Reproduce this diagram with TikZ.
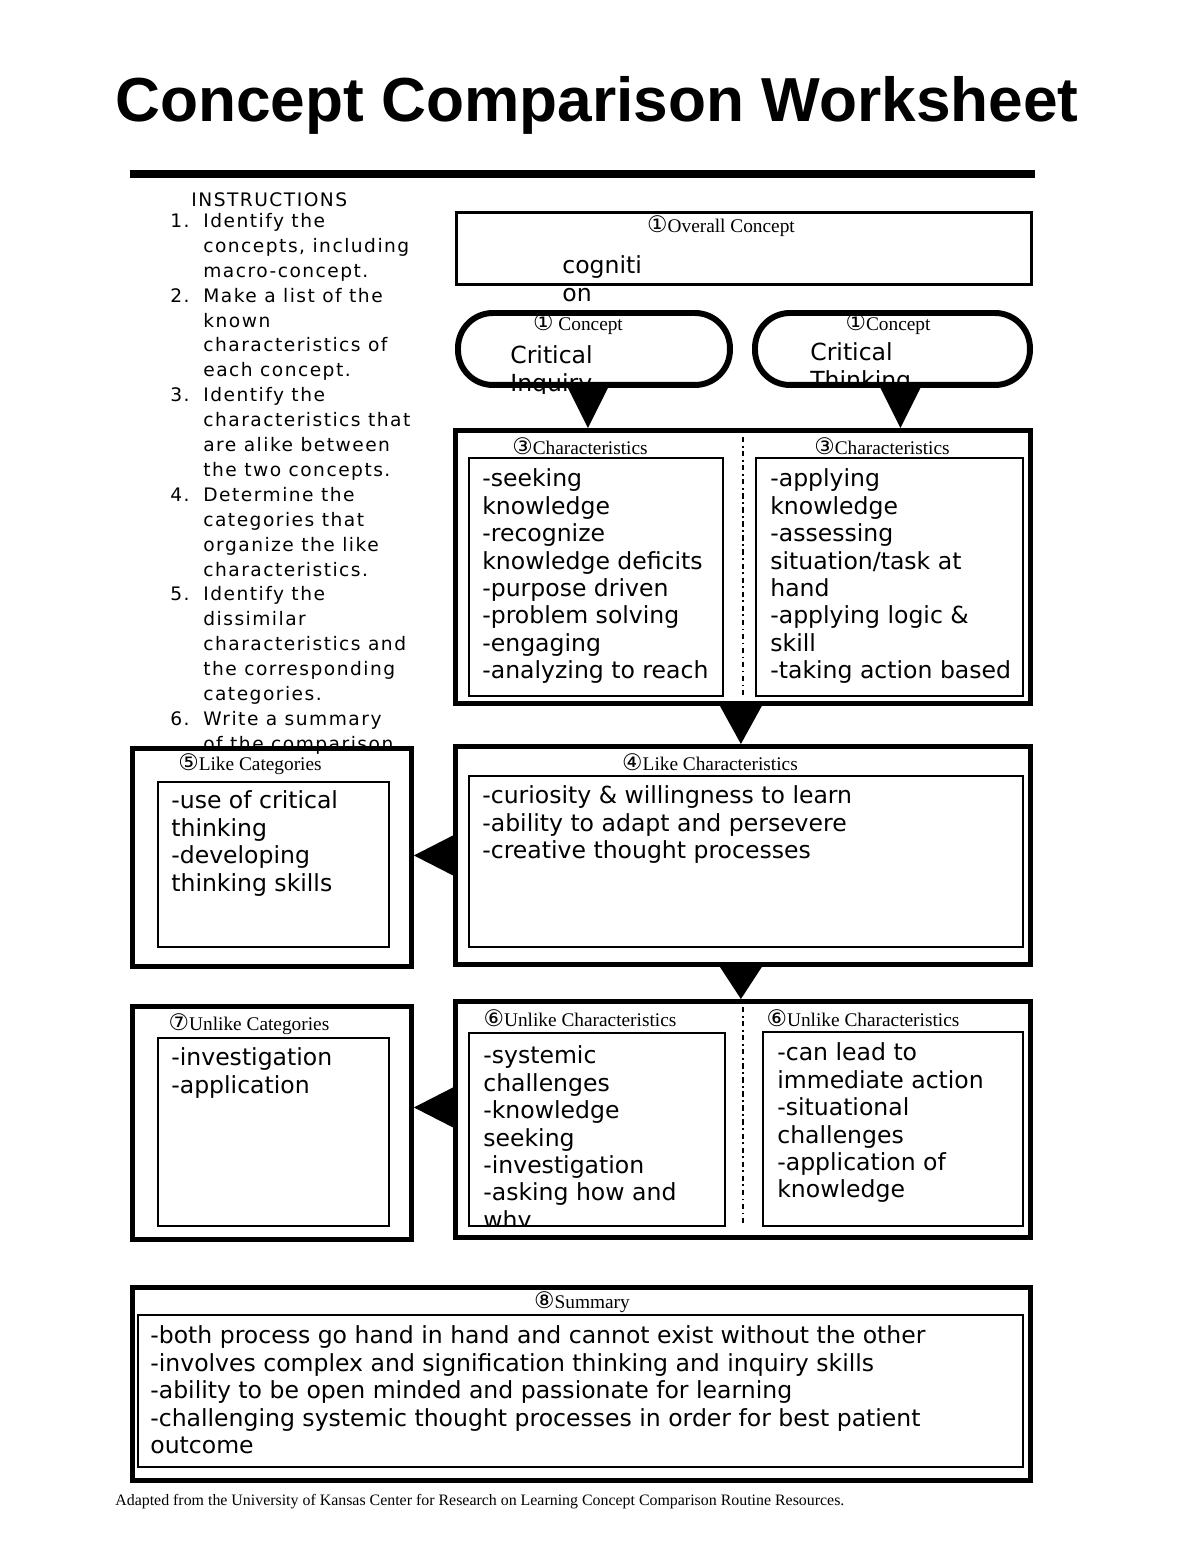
\documentclass[tikz,border=0pt]{standalone}
\usepackage{fontspec}
\setmainfont{Liberation Serif}
\newfontfamily\bodyfont{DejaVu Sans}
\newfontfamily\instrfont[LetterSpace=8]{DejaVu Sans}
\newfontfamily\headfont{Liberation Sans}
\newfontfamily\numfont{DejaVu Sans}
\usetikzlibrary{calc}

\newcommand{\cnum}[1]{{\numfont\fontsize{13}{13}\selectfont #1}}
\newcommand{\stepno}[1]{\makebox[6.6mm][l]{#1}}
\newcommand{\stepind}{\hspace*{6.6mm}}

\begin{document}
\begin{tikzpicture}[
  x=0.02cm, y=-0.02cm,
  outerbox/.style={draw, line width=2.8pt, anchor=north west, inner sep=0pt},
  innerbox/.style={draw, line width=0.9pt, anchor=north west, inner sep=0pt},
  conceptbox/.style={draw, line width=3.4pt, rounded corners=7mm, anchor=north west, inner sep=0pt},
  lbl/.style={font=\fontsize{11}{13}\selectfont, inner sep=0pt},
  body/.style={font=\bodyfont\fontsize{13.4}{15.6}\selectfont, align=left, anchor=north west, inner sep=0pt, execute at begin node=\strut},
  instr/.style={font=\instrfont\fontsize{10.6}{14.17}\selectfont, align=left, anchor=north west, inner sep=0pt, execute at begin node=\strut},
  divider/.style={line width=1pt, dash dot},
  head/.style={fill=black}
]
\useasboundingbox (0,0) rectangle (1200,1553);

% title and rule
\node[font=\headfont\bfseries\fontsize{35.4}{40}\selectfont] (title) at (597,105) {Concept Comparison Worksheet};
\draw[line width=4.5pt] (130,174) -- (1035,174);

% instructions
\node[instr] (instrhead) at (191,189) {INSTRUCTIONS};
\node[instr] (steps) at (170,213) {\stepno{1.}Identify the\\
\stepind concepts, including\\
\stepind macro-concept.\\
\stepno{2.}Make a list of the\\
\stepind known\\
\stepind characteristics of\\
\stepind each concept.\\
\stepno{3.}Identify the\\
\stepind characteristics that\\
\stepind are alike between\\
\stepind the two concepts.\\
\stepno{4.}Determine the\\
\stepind categories that\\
\stepind organize the like\\
\stepind characteristics.\\
\stepno{5.}Identify the\\
\stepind dissimilar\\
\stepind characteristics and\\
\stepind the corresponding\\
\stepind categories.\\
\stepno{6.}Write a summary\\
\stepind of the comparison.};

% boxes
\node[outerbox, line width=1.8pt, minimum width=115mm, minimum height=14.4mm] (overall) at (455,211) {};
\node[conceptbox, minimum width=54.4mm, minimum height=14.4mm] (cl) at (455,310) {};
\node[conceptbox, minimum width=55mm, minimum height=14.4mm] (cr) at (752,310) {};

\node[outerbox, minimum width=115mm, minimum height=54.6mm] (chars) at (453,428) {};
\node[innerbox, minimum width=50.9mm, minimum height=47.7mm] (charl) at (468,457) {};
\node[innerbox, minimum width=53.5mm, minimum height=47.7mm] (charr) at (755,457) {};
\draw[divider] ($(chars.north)+(0,9)$) -- ($(chars.south)+(0,-9)$);

\node[outerbox, minimum width=115mm, minimum height=43.6mm] (like) at (453,744) {};
\node[innerbox, minimum width=110.9mm, minimum height=34.3mm] (likein) at (468,775) {};
\node[outerbox, minimum width=55.8mm, minimum height=43.6mm] (likecat) at (130,746) {};
\node[innerbox, minimum width=46.3mm, minimum height=33.1mm] (likecatin) at (157,781) {};

\node[outerbox, minimum width=115mm, minimum height=47.2mm] (unlike) at (453,999) {};
\node[innerbox, minimum width=51.3mm, minimum height=38.7mm] (unlikel) at (468,1032) {};
\node[innerbox, minimum width=52.1mm, minimum height=38.9mm] (unliker) at (762,1031) {};
\draw[divider] ($(unlike.north)+(0,8)$) -- ($(unlike.south)+(0,-14)$);
\node[outerbox, minimum width=55.8mm, minimum height=46.6mm] (unlikecat) at (130,1004) {};
\node[innerbox, minimum width=46.3mm, minimum height=37.7mm] (unlikecatin) at (157,1037) {};

\node[outerbox, minimum width=179.6mm, minimum height=38.6mm] (summary) at (130,1285) {};
\node[innerbox, minimum width=177.1mm, minimum height=30.5mm] (summaryin) at (137,1314) {};

% labels
\node[lbl] (overalllbl) at (721,226) {\cnum{①}Overall Concept};
\node[lbl] (cllbl) at (578,324) {\cnum{①} Concept};
\node[lbl] (crlbl) at (888,324) {\cnum{①}Concept};
\node[lbl] (charllbl) at (580,446) {\cnum{③}Characteristics};
\node[lbl] (charrlbl) at (882,446) {\cnum{③}Characteristics};
\node[lbl] (likelbl) at (710,762) {\cnum{④}Like Characteristics};
\node[lbl] (likecatlbl) at (250,764) {\cnum{⑤}Like Categories};
\node[lbl] (unlikellbl) at (580,1018) {\cnum{⑥}Unlike Characteristics};
\node[lbl] (unlikerlbl) at (863,1018) {\cnum{⑥}Unlike Characteristics};
\node[lbl] (unlikecatlbl) at (249,1024) {\cnum{⑦}Unlike Categories};
\node[lbl] (summarylbl) at (582,1302) {\cnum{⑧}Summary};

% entries
\node[body] (overalltxt) at (562,255.7) {cogniti\\on};
\begin{scope}
\clip (cl.north west) rectangle ($(cl.south east)+(0,6)$);
\node[body] (cltxt) at (510,345.7) {Critical\\Inquiry};
\end{scope}
\begin{scope}
\clip (cr.north west) rectangle ($(cr.south east)+(0,-4)$);
\node[body] (crtxt) at (810,342.7) {Critical\\Thinking};
\end{scope}
\node[body] (charltxt) at (482,468.7) {-seeking\\knowledge\\-recognize\\knowledge deficits\\-purpose driven\\-problem solving\\-engaging\\-analyzing to reach};
\node[body] (charrtxt) at (770,468.7) {-applying\\knowledge\\-assessing\\situation/task at\\hand\\-applying logic \&\\skill\\-taking action based};
\node[body] (liketxt) at (482,785.7) {-curiosity \& willingness to learn\\-ability to adapt and persevere\\-creative thought processes};
\node[body] (likecattxt) at (171,790.7) {-use of critical\\thinking\\-developing\\thinking skills};
\begin{scope}
\clip (unlikel.north west) rectangle ($(unlikel.south east)+(0,-3)$);
\node[body] (unlikeltxt) at (483,1045.7) {-systemic\\challenges\\-knowledge\\seeking\\-investigation\\-asking how and\\why};
\end{scope}
\node[body] (unlikertxt) at (777,1042.7) {-can lead to\\immediate action\\-situational\\challenges\\-application of\\knowledge};
\node[body] (unlikecattxt) at (171,1047.7) {-investigation\\-application};
\node[body] (summarytxt) at (150,1325.7) {-both process go hand in hand and cannot exist without the other\\-involves complex and signification thinking and inquiry skills\\-ability to be open minded and passionate for learning\\-challenging systemic thought processes in order for best patient\\outcome};

\node[font=\fontsize{9.05}{10}\selectfont, anchor=base west, inner sep=0pt] (source) at (115,1505) {Adapted from the University of Kansas Center for Research on Learning Concept Comparison Routine Resources.};

% arrow heads
\fill[head] ($(cl.south)+(-26,0)$) -- ($(cl.south)+(14,0)$) -- ($(cl.south |- chars.north)+(-6,0)$) -- cycle;
\fill[head] ($(cr.south)+(-12,0)$) -- ($(cr.south)+(28,0)$) -- ($(cr.south |- chars.north)+(8,0)$) -- cycle;
\fill[head] ($(chars.south)+(-23,0)$) -- ($(chars.south)+(19,0)$) -- ($(like.north)+(-2,0)$) -- cycle;
\fill[head] ($(like.south)+(-23,0)$) -- ($(like.south)+(19,0)$) -- ($(unlike.north)+(-2,0)$) -- cycle;
\fill[head] ($(like.west)+(0,-20)$) -- ($(like.west)+(0,20)$) -- (likecat.east |- like.west) -- cycle;
\fill[head] ($(unlike.west)+(0,-32)$) -- ($(unlike.west)+(0,8)$) -- ($(unlikecat.east |- unlike.west)+(0,-12)$) -- cycle;
\end{tikzpicture}
\end{document}
